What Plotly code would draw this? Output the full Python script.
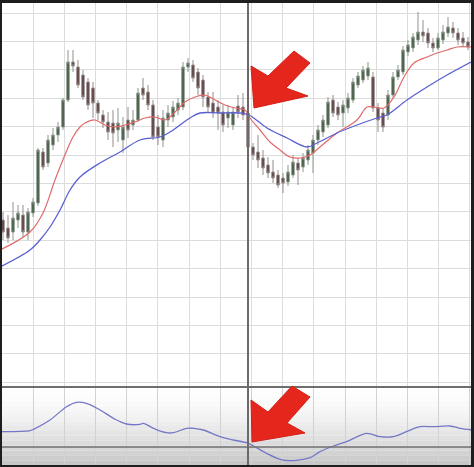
import plotly.graph_objects as go

# ---------------- data ----------------
candle_open = [180, 172, 168, 180, 185, 168, 187, 197, 248, 237,
               255, 265, 273, 300, 338, 333, 325, 318, 312, 297,
               285, 278, 277, 270, 260, 280, 275, 280, 312, 308,
               295, 273, 260, 280, 283, 290, 293, 333, 335, 328,
               320, 303, 297, 293, 288, 282, 275, 294, 293, 287,
               253, 248, 242, 235, 228, 225, 222, 218, 225, 237,
               233, 240, 247, 260, 268, 275, 300, 293, 287, 292,
               300, 315, 320, 324, 323, 292, 287, 285, 305, 323,
               328, 348, 352, 360, 368, 367, 357, 352, 360, 367,
               372, 367, 362, 358]
candle_close = [168, 162, 182, 187, 168, 188, 198, 250, 233, 260,
                265, 273, 300, 338, 334, 315, 303, 295, 297, 287,
                278, 268, 267, 277, 273, 270, 280, 307, 305, 295,
                263, 263, 282, 287, 293, 297, 333, 337, 322, 312,
                303, 293, 287, 287, 275, 288, 288, 288, 285, 253,
                245, 240, 232, 227, 222, 215, 217, 228, 238, 230,
                242, 250, 260, 270, 280, 298, 287, 285, 295, 302,
                318, 324, 330, 332, 292, 280, 273, 305, 323, 330,
                350, 355, 363, 368, 364, 357, 352, 362, 368, 373,
                367, 360, 357, 353]
candle_high = [188, 185, 198, 195, 195, 192, 202, 252, 252, 265,
               272, 278, 302, 350, 350, 340, 330, 322, 318, 300,
               290, 288, 290, 292, 283, 293, 290, 312, 322, 315,
               300, 285, 290, 295, 299, 302, 338, 342, 340, 332,
               325, 308, 308, 300, 295, 295, 293, 305, 307, 290,
               257, 265, 250, 243, 240, 230, 227, 235, 245, 242,
               247, 255, 265, 275, 285, 303, 305, 298, 300, 307,
               322, 328, 334, 338, 328, 297, 292, 310, 328, 335,
               354, 360, 367, 388, 380, 372, 362, 367, 375, 383,
               378, 372, 368, 363]
candle_low = [160, 157, 160, 172, 163, 160, 183, 194, 230, 233,
              250, 258, 270, 298, 328, 312, 300, 290, 282, 280,
              272, 260, 253, 258, 247, 262, 270, 278, 300, 290,
              260, 255, 253, 273, 278, 285, 290, 328, 318, 305,
              293, 288, 282, 270, 268, 272, 270, 282, 280, 250,
              240, 232, 225, 222, 217, 212, 207, 214, 222, 215,
              228, 235, 227, 255, 263, 272, 283, 280, 273, 287,
              297, 312, 317, 320, 288, 268, 268, 280, 302, 320,
              325, 344, 348, 355, 358, 352, 348, 350, 356, 363,
              362, 355, 353, 350]

fast_ma_x = [-0.6, 5.4, 8, 10.4, 12.8, 14, 15.4, 16.4, 18.4, 20.4, 22.4, 24.4,
             26.4, 28.4, 30.4, 32.4, 34.4, 36.4, 38.4, 40.4, 42.4, 44.4, 46.4,
             48.4, 49.4, 51.4, 53.4, 55.4, 57.4, 59.4, 61.4, 63.4, 66.8, 70.8,
             72.8, 74.2, 76.2, 78.2, 80.2, 82.2, 84.8, 86.8, 88.8, 90.8, 93.6]
fast_ma = [150, 168, 187, 220, 250, 263, 273, 277, 280, 275, 273, 275,
           278, 282, 283, 280, 288, 298, 303, 305, 300, 295, 292,
           290, 282, 270, 258, 250, 243, 242, 245, 253, 267, 280,
           293, 293, 292, 303, 323, 337, 343, 347, 350, 353, 353]

slow_ma_x = [-0.6, 5.4, 7.4, 9.4, 11.4, 13.4, 15.4, 19.4, 23.4, 27.4, 31.4,
             33.4, 35.4, 37.4, 39.4, 43.4, 47.4, 49.2, 52.8, 56.8, 60.8,
             62.8, 66.8, 70.8, 74.8, 76.8, 80.8, 84.8, 88.8, 93.6]
slow_ma = [133, 150, 160, 173, 190, 210, 223, 237, 248, 260, 263,
           268, 275, 282, 287, 287, 287, 285, 272, 262, 253,
           257, 267, 275, 282, 285, 300, 313, 325, 338]

osc_x = [-0.6, 5.4, 6.1, 9.4, 12.7, 14.7, 16.7, 19.4, 22.1, 24.7, 27.4, 28.1,
         30.1, 32.7, 34.1, 36.7, 38.1, 40.1, 43.4, 46.1, 48.7, 50.1, 52.7,
         55.4, 57.4, 60.1, 61.4, 63.4, 66.1, 68.7, 72.7, 75.4, 78.1, 80.7,
         83.4, 86.1, 89.4, 91.4, 94.1]
osc = [15.3, 16.3, 17.7, 27, 40.3, 44.7, 43.7, 37, 28.7, 23, 22.7, 23.7,
       18.7, 14.3, 14.3, 18.7, 18.7, 17, 10.3, 7, 4.3, 1, -6.3,
       -12.3, -13.7, -12.3, -10.7, -4.7, 1, 5.3, 13.7, 10.3, 10.3, 15.3,
       20.3, 20.3, 21, 18.7, 17]

signal_bar = 49  # the candle marked by the vertical line

# ---------------- figure ----------------
W, H = 474, 467
idx = list(range(len(candle_open)))

fig = go.Figure()
fig.add_trace(go.Candlestick(
    x=idx, open=candle_open, high=candle_high, low=candle_low, close=candle_close,
    increasing=dict(line=dict(color="#8c978c", width=1), fillcolor="#3a553a"),
    decreasing=dict(line=dict(color="#978c8c", width=1), fillcolor="#553838"),
    whiskerwidth=0, xaxis="x", yaxis="y", showlegend=False, hoverinfo="skip"))
fig.add_trace(go.Scatter(x=fast_ma_x, y=fast_ma, mode="lines",
                         line=dict(color="#e06a6a", width=1.2, shape="spline"),
                         xaxis="x", yaxis="y", showlegend=False, hoverinfo="skip"))
fig.add_trace(go.Scatter(x=slow_ma_x, y=slow_ma, mode="lines",
                         line=dict(color="#5a60d2", width=1.3, shape="spline"),
                         xaxis="x", yaxis="y", showlegend=False, hoverinfo="skip"))
fig.add_trace(go.Scatter(x=osc_x, y=osc, mode="lines",
                         line=dict(color="#7478c6", width=1.3, shape="spline"),
                         xaxis="x2", yaxis="y2", showlegend=False, hoverinfo="skip"))


def px(x):
    return x / W


def py(y):
    return 1 - y / H


shapes = []
# gradient background of the lower panel
top_px, bot_px = 387, 465
nb = 16
for i in range(nb):
    y0 = top_px + (bot_px - top_px) * i / nb
    y1 = top_px + (bot_px - top_px) * (i + 1) / nb
    t = (i + 0.5) / nb
    g = int(255 - 58 * t ** 1.6)
    shapes.append(dict(type="rect", xref="paper", yref="paper", layer="below",
                       x0=px(2), x1=px(471), y0=py(y1), y1=py(y0),
                       fillcolor=f"rgb({g},{g},{g})", line=dict(width=0)))
# panel separator
shapes.append(dict(type="line", xref="paper", yref="paper",
                   x0=px(2), x1=px(471), y0=py(387), y1=py(387),
                   line=dict(color="#6e6e6e", width=2)))
# zero line of the oscillator
shapes.append(dict(type="line", xref="paper", yref="y2", x0=px(2), x1=px(471),
                   y0=0, y1=0, line=dict(color="#707070", width=1.5)))
# vertical marker line
shapes.append(dict(type="line", xref="x", yref="paper", x0=signal_bar, x1=signal_bar,
                   y0=py(465), y1=py(3), line=dict(color="#6a6a6a", width=2)))


def arrow(pts):
    d = "M " + " L ".join(f"{px(x):.5f},{py(y):.5f}" for x, y in pts) + " Z"
    return dict(type="path", xref="paper", yref="paper", path=d,
                fillcolor="#e5261c", line=dict(color="#d41f16", width=1), layer="above")


shapes.append(arrow([(254, 108), (251, 66), (268, 76), (294, 51), (310, 63), (286, 88), (308, 96)]))
shapes.append(arrow([(252, 442), (251, 400), (268, 412), (292, 386), (310, 397), (287, 423), (305, 433)]))

grid_col = "#dcdcdc"
fig.update_layout(
    width=W, height=H, margin=dict(l=0, r=0, t=0, b=0),
    paper_bgcolor="#1e1e1e", plot_bgcolor="#ffffff", showlegend=False,
    shapes=shapes,
    xaxis=dict(domain=[px(2), px(471)], range=[-0.2, 93.6], anchor="y",
               showgrid=True, gridcolor=grid_col, gridwidth=1, tick0=-0.24, dtick=6.24,
               showticklabels=False, ticks="", zeroline=False, showline=False,
               rangeslider=dict(visible=False), fixedrange=True),
    yaxis=dict(domain=[py(387), py(3)], range=[13, 397], anchor="x",
               showgrid=True, gridcolor=grid_col, gridwidth=1, tick0=17.8, dtick=28.4,
               showticklabels=False, ticks="", zeroline=False, showline=False),
    xaxis2=dict(domain=[px(2), px(471)], range=[-0.2, 93.6], anchor="y2", matches="x",
                showgrid=True, gridcolor="#d2d2d2", gridwidth=1, tick0=-0.24, dtick=6.24,
                showticklabels=False, ticks="", zeroline=False, showline=False),
    yaxis2=dict(domain=[py(465), py(387)], range=[-18, 60], anchor="x2",
                showgrid=False, showticklabels=False, ticks="", zeroline=False, showline=False),
)

fig.write_html("out.html", config={"displayModeBar": False},
               post_script="document.body.style.margin='0';document.body.style.background='#1e1e1e';")
